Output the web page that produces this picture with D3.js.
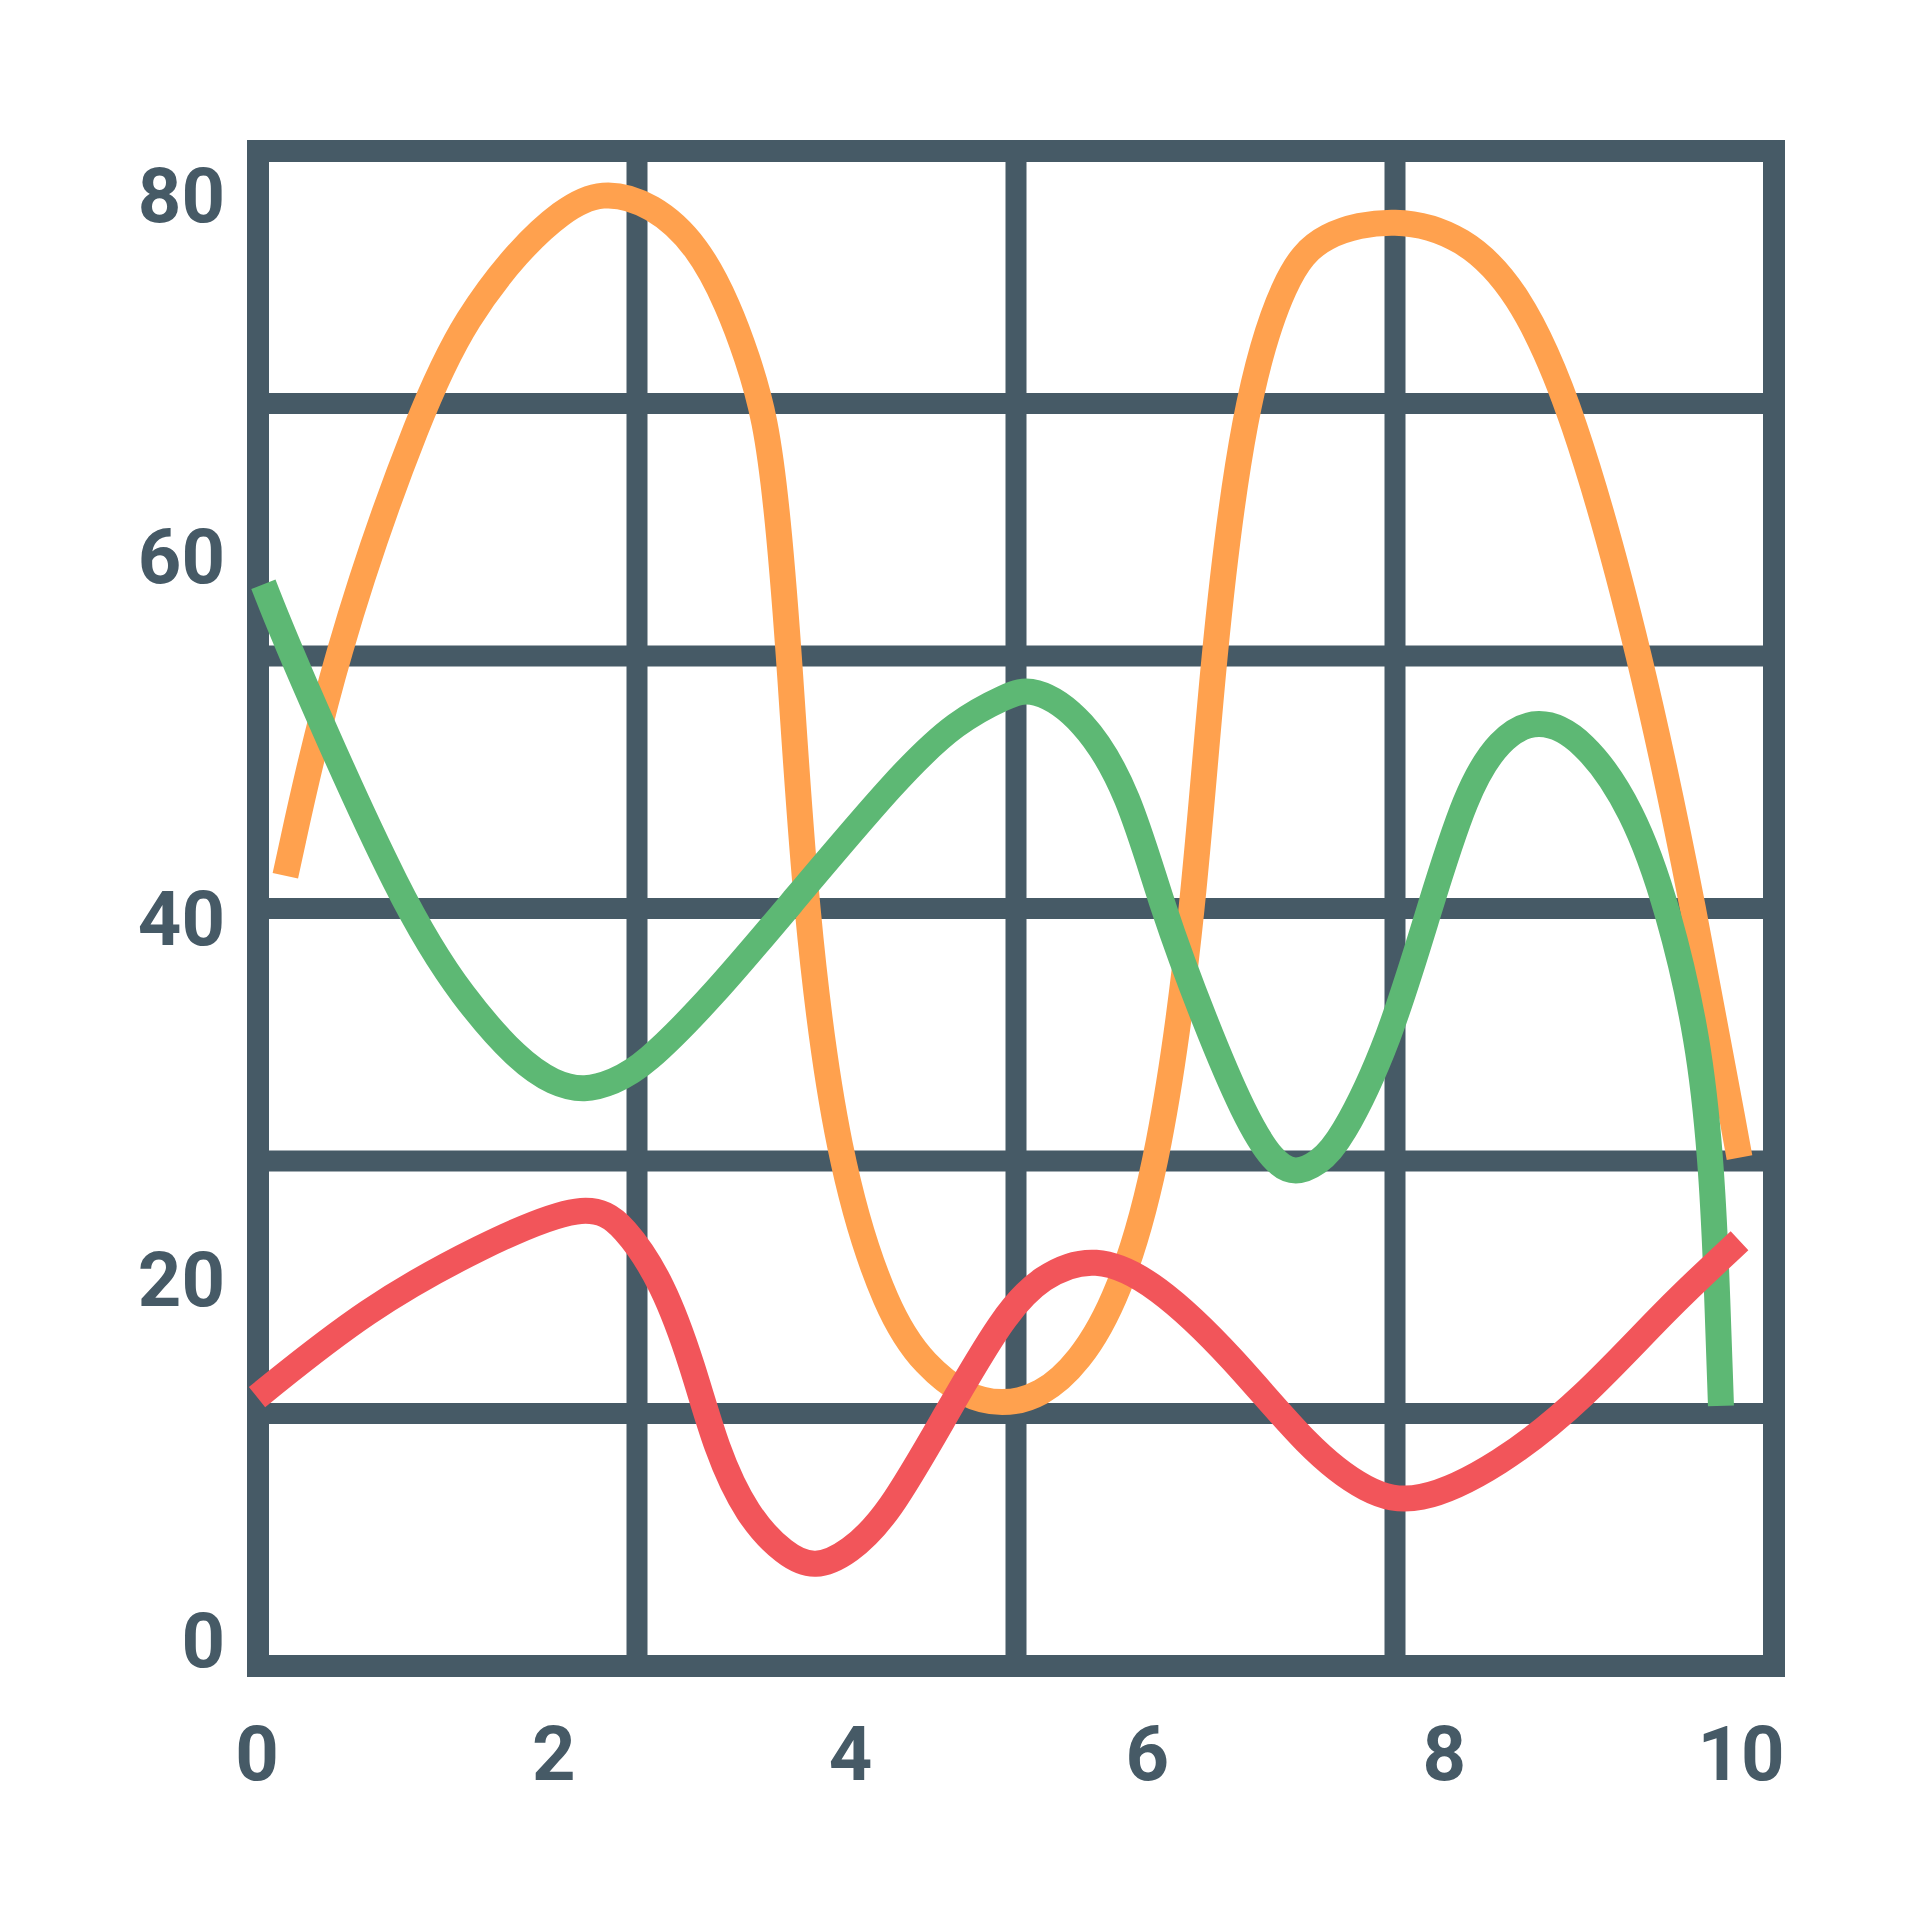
<!DOCTYPE html>
<html>
<head>
<meta charset="utf-8">
<script src="https://cdn.jsdelivr.net/npm/d3@7"></script>
<style>
  html, body { margin: 0; padding: 0; background: #ffffff; }
  svg { display: block; }
</style>
</head>
<body>
<div id="chart"></div>
<script>
// ---- data ----
const xTicks = [0, 2, 4, 6, 8, 10];
const yTicks = [0, 20, 40, 60, 80];

const orangeX = [0.191, 0.513, 1.116, 1.42, 1.76, 2.05, 2.32, 2.668, 2.972, 3.18, 3.30, 3.427, 3.51, 3.59, 3.692, 3.906, 4.252, 4.508, 4.764, 5.020, 5.283, 5.539, 5.802, 6.085, 6.315, 6.440, 6.647, 6.927, 7.170, 7.679, 8.133, 8.491, 8.859, 9.330, 9.683, 9.990];
const orangeY = [42.31, 54.48, 68.46, 73.3, 76.9, 79.1, 80.3, 79.5, 77.2, 73.8, 71.1, 67.7, 62.3, 54.2, 40.50, 26.52, 17.94, 15.17, 13.51, 13.0, 13.51, 15.34, 18.88, 26.52, 40.50, 54.48, 68.46, 75.6, 77.9, 78.8, 77.7, 74.80, 68.46, 54.48, 40.50, 26.71];

const greenX = [0.043, 0.233, 0.99, 1.395, 1.759, 2.0, 2.21, 2.4, 2.601, 3.080, 3.57, 4.333, 4.717, 5.05, 5.227, 5.566, 5.876, 6.10, 6.395, 6.651, 6.85, 7.0, 7.15, 7.298, 7.628, 7.90, 8.147, 8.369, 8.63, 8.935, 9.272, 9.51, 9.717, 9.798, 9.832, 9.865];
const greenY = [58.45, 54.48, 40.5, 35.49, 32.11, 30.8, 30.4, 30.9, 31.72, 35.71, 40.5, 47.94, 50.88, 52.27, 52.8, 51.1, 46.95, 40.5, 34.05, 29.07, 26.4, 25.8, 26.4, 27.52, 33.05, 40.5, 46.95, 49.9, 51.1, 49.94, 46.01, 40.5, 33.22, 26.52, 21.0, 12.96];

const redX = [0, 0.745, 1.503, 2.23, 2.480, 2.736, 2.938, 3.093, 3.302, 3.558, 3.76, 3.989, 4.252, 4.636, 5.027, 5.283, 5.645, 6.058, 6.570, 7.089, 7.480, 7.81, 8.369, 8.935, 9.495, 9.99];
const redY = [13.45, 18.38, 21.81, 24.4, 22.92, 19.76, 15.17, 10.57, 6.87, 4.7, 3.95, 4.82, 6.87, 12.40, 17.94, 20.15, 21.35, 19.76, 15.72, 10.57, 8.14, 7.45, 9.63, 13.34, 18.33, 22.1];

const gridCols = [0, 1, 2, 3, 4];
const gridRows = [0, 1, 2, 3, 4, 5, 6];

// ---- drawing ----
const W = 1920, H = 1920;
const ink = "#465a66";
const svg = d3.select("#chart").append("svg").attr("width", W).attr("height", H);
svg.append("rect").attr("width", W).attr("height", H).attr("fill", "#ffffff");

const x = d3.scaleLinear().domain([0, 10]).range([257, 1741]);
const y = d3.scaleLinear().domain([0, 80]).range([1640, 195]);
const gx = d3.scaleLinear().domain([0, 4]).range([258, 1774]);
const gy = d3.scaleLinear().domain([0, 6]).range([151, 1666]);

const grid = svg.append("g").attr("stroke", ink).attr("stroke-width", 21);
grid.selectAll("line.v").data(gridCols.slice(1, -1)).enter().append("line")
  .attr("x1", d => gx(d)).attr("x2", d => gx(d)).attr("y1", gy(0)).attr("y2", gy(6));
grid.selectAll("line.h").data(gridRows.slice(1, -1)).enter().append("line")
  .attr("y1", d => gy(d)).attr("y2", d => gy(d)).attr("x1", gx(0)).attr("x2", gx(4));
svg.append("rect")
  .attr("x", gx(0)).attr("y", gy(0))
  .attr("width", gx(4) - gx(0)).attr("height", gy(6) - gy(0))
  .attr("fill", "none").attr("stroke", ink).attr("stroke-width", 22)
  .attr("stroke-linejoin", "miter");

const line = d3.line().x(d => x(d[0])).y(d => y(d[1])).curve(d3.curveBasis);
const series = [
  { xs: orangeX, ys: orangeY, color: "#ffa14e" },
  { xs: greenX, ys: greenY, color: "#5db874" },
  { xs: redX, ys: redY, color: "#f2555a" }
];
series.forEach(s => {
  svg.append("path")
    .datum(s.xs.map((v, i) => [v, s.ys[i]]))
    .attr("d", line)
    .attr("fill", "none")
    .attr("stroke", s.color)
    .attr("stroke-width", 26)
    .attr("stroke-linecap", "butt")
    .attr("stroke-linejoin", "round");
});

const font = "Roboto, 'Open Sans', sans-serif";
svg.append("g").selectAll("text").data(xTicks).enter().append("text")
  .attr("x", d => x(d)).attr("y", 1780)
  .attr("text-anchor", "middle")
  .attr("font-family", font).attr("font-weight", 700).attr("font-size", 76)
  .attr("fill", ink).text(d => d);
svg.append("g").selectAll("text").data(yTicks).enter().append("text")
  .attr("x", 225).attr("y", d => y(d) + 27)
  .attr("text-anchor", "end")
  .attr("font-family", font).attr("font-weight", 700).attr("font-size", 76)
  .attr("fill", ink).text(d => d);
</script>
</body>
</html>
